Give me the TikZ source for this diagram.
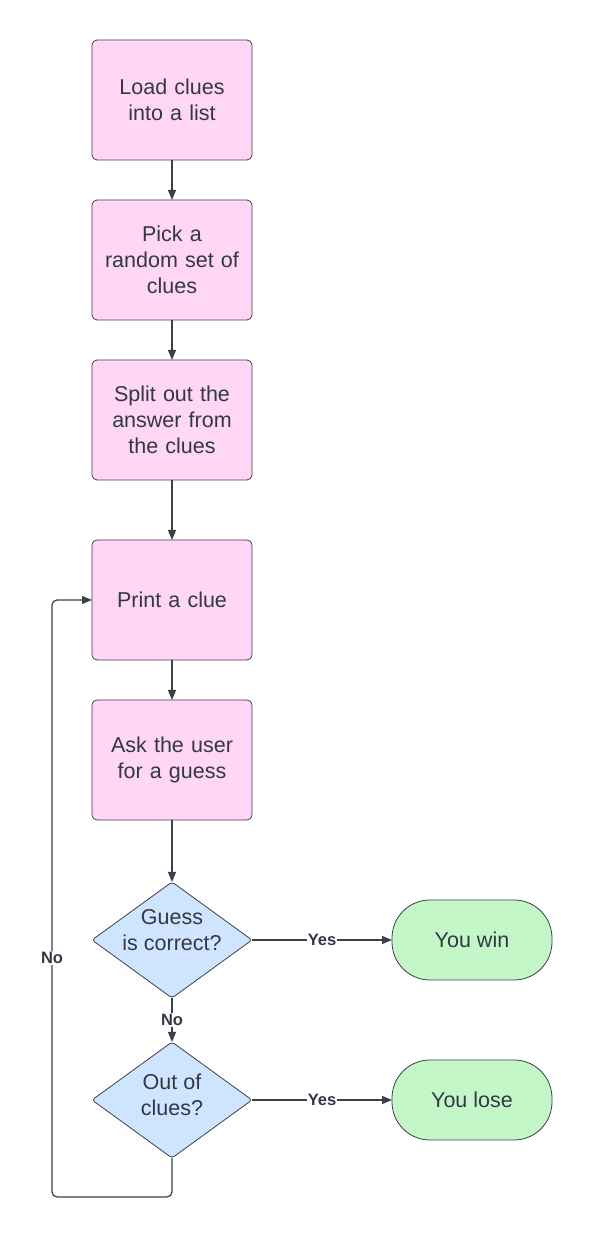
\documentclass[tikz,border=0pt]{standalone}
\usepackage{fontspec}
\setmainfont{Liberation Sans}
\usetikzlibrary{positioning,shapes.geometric,arrows.meta}
\definecolor{boxpink}{HTML}{FFD6F5}
\definecolor{decblue}{HTML}{CFE4FF}
\definecolor{endgreen}{HTML}{C3F7C8}
\definecolor{edgegray}{HTML}{3A414A}
\definecolor{txtgray}{HTML}{333845}
\tikzset{
  stepbox/.style={draw=edgegray, fill=boxpink, rounded corners=5pt, line width=0.8pt, outer sep=0pt,
    minimum width=160pt, minimum height=120pt, text width=150pt, align=center,
    text=txtgray, font=\fontsize{21.5}{26}\selectfont},
  decision/.style={diamond, draw=edgegray, fill=decblue, rounded corners=3pt, line width=0.8pt, outer sep=0pt,
    minimum width=160pt, minimum height=116pt, inner sep=-10pt, shape aspect=1.38,
    align=center, text=txtgray, font=\fontsize{21.5}{26}\selectfont},
  terminal/.style={draw=edgegray, fill=endgreen, rounded corners=38pt, line width=0.8pt, outer sep=0pt,
    minimum width=160pt, minimum height=80pt, align=center,
    text=txtgray, font=\fontsize{21.5}{26}\selectfont},
  arrow/.style={draw=edgegray, line width=1.2pt, -{Triangle[length=10pt,width=8pt]}},
  lab/.style={fill=white, inner sep=1pt, text=txtgray, font=\bfseries\fontsize{16.5}{18}\selectfont}
}
\begin{document}
\begin{tikzpicture}[x=1pt,y=1pt]
	\useasboundingbox[fill=white] (0,0) rectangle (592,1239);
	% main column
	\node[stepbox] (load) at (172,1139) {Load clues\\into a list};
	\node[stepbox, below=40pt of load] (pick) {Pick a\\random set of\\clues};
	\node[stepbox, below=40pt of pick] (split) {Split out the\\answer from\\the clues};
	\node[stepbox, below=60pt of split] (print) {Print a clue};
	\node[stepbox, below=40pt of print] (ask) {Ask the user\\for a guess};
	\node[decision] (guess) at (172,299) {Guess\\is correct?\rule[-20pt]{0pt}{1pt}};
	\node[decision] (outof) at (172,139) {Out of\\clues?\rule[-10pt]{0pt}{1pt}};
	\node[terminal] (win) at (472,299) {You win};
	\node[terminal] (lose) at (472,139) {You lose};
	\coordinate (loopbl) at (52,42);
	% connectors
	\draw[arrow] (load) -- (pick);
	\draw[arrow] (pick) -- (split);
	\draw[arrow] (split) -- (print);
	\draw[arrow] (print) -- (ask);
	\draw[arrow] (ask) -- (guess);
	\draw[arrow] (guess) -- node[lab] {No} (outof);
	\draw[arrow] (guess) -- node[lab] {Yes} (win);
	\draw[arrow] (outof) -- node[lab] {Yes} (lose);
	\draw[arrow, rounded corners=5pt] (outof.south) |- (loopbl) |- node[lab, pos=0.2] {No} (print.west);
\end{tikzpicture}
\end{document}
